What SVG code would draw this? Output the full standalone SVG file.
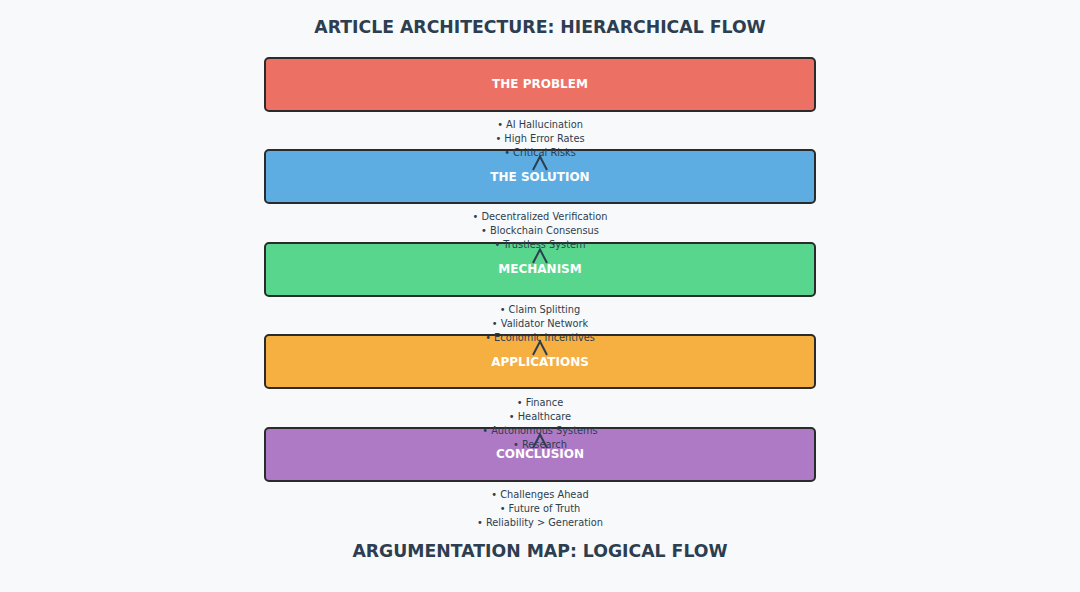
<svg xmlns="http://www.w3.org/2000/svg" width="1080" height="592" viewBox="0 0 1080 592">
<defs>
<style>
.bg{fill:#f8f9fa}
.box{stroke:#2b2b2b;stroke-width:2}
.lbl{font-family:"DejaVu Sans",sans-serif;font-weight:bold;font-size:12px;fill:#ffffff;text-anchor:middle;dominant-baseline:central}
.bul{font-family:"DejaVu Sans",sans-serif;font-size:9.8px;fill:#2c3e50;text-anchor:middle;dominant-baseline:central}
.title{font-family:"DejaVu Sans",sans-serif;font-weight:bold;font-size:17.3px;fill:#2c3e50;text-anchor:middle;dominant-baseline:central}
.arr{fill:none;stroke:#2c3e50;stroke-width:2}
</style>
</defs>
<rect class="bg" x="0" y="0" width="1080" height="592"/>
<text class="title" x="540" y="27">ARTICLE ARCHITECTURE: HIERARCHICAL FLOW</text>

<g id="problem">
<rect class="box" x="265" y="58" width="550" height="53" rx="4" fill="#ec7063"/>
<text class="lbl" x="540" y="84">THE PROBLEM</text>
</g>
<g id="solution">
<rect class="box" x="265" y="150" width="550" height="53" rx="4" fill="#5dade2"/>
<text class="lbl" x="540" y="176.5">THE SOLUTION</text>
</g>
<g id="mechanism">
<rect class="box" x="265" y="243" width="550" height="53" rx="4" fill="#58d68d"/>
<text class="lbl" x="540" y="269">MECHANISM</text>
</g>
<g id="applications">
<rect class="box" x="265" y="335" width="550" height="53" rx="4" fill="#f5b041"/>
<text class="lbl" x="540" y="361.5">APPLICATIONS</text>
</g>
<g id="conclusion">
<rect class="box" x="265" y="428" width="550" height="53" rx="4" fill="#af7ac5"/>
<text class="lbl" x="540" y="454">CONCLUSION</text>
</g>

<g id="bullets">
<text class="bul" x="540" y="124">• AI Hallucination</text>
<text class="bul" x="540" y="138">• High Error Rates</text>
<text class="bul" x="540" y="152">• Critical Risks</text>
<text class="bul" x="540" y="216">• Decentralized Verification</text>
<text class="bul" x="540" y="230">• Blockchain Consensus</text>
<text class="bul" x="540" y="244">• Trustless System</text>
<text class="bul" x="540" y="309">• Claim Splitting</text>
<text class="bul" x="540" y="323">• Validator Network</text>
<text class="bul" x="540" y="337">• Economic Incentives</text>
<text class="bul" x="540" y="402">• Finance</text>
<text class="bul" x="540" y="416">• Healthcare</text>
<text class="bul" x="540" y="430">• Autonomous Systems</text>
<text class="bul" x="540" y="444">• Research</text>
<text class="bul" x="540" y="494">• Challenges Ahead</text>
<text class="bul" x="540" y="508">• Future of Truth</text>
<text class="bul" x="540" y="522">• Reliability &gt; Generation</text>
</g>

<g id="connectors">
<path class="arr" d="M533 170 L540 156.5 L547 170"/>
<path class="arr" d="M533 263 L540 249.5 L547 263"/>
<path class="arr" d="M533 355 L540 341.5 L547 355"/>
<path class="arr" d="M533 448 L540 434.5 L547 448"/>
</g>

<text class="title" x="540" y="551">ARGUMENTATION MAP: LOGICAL FLOW</text>
</svg>
